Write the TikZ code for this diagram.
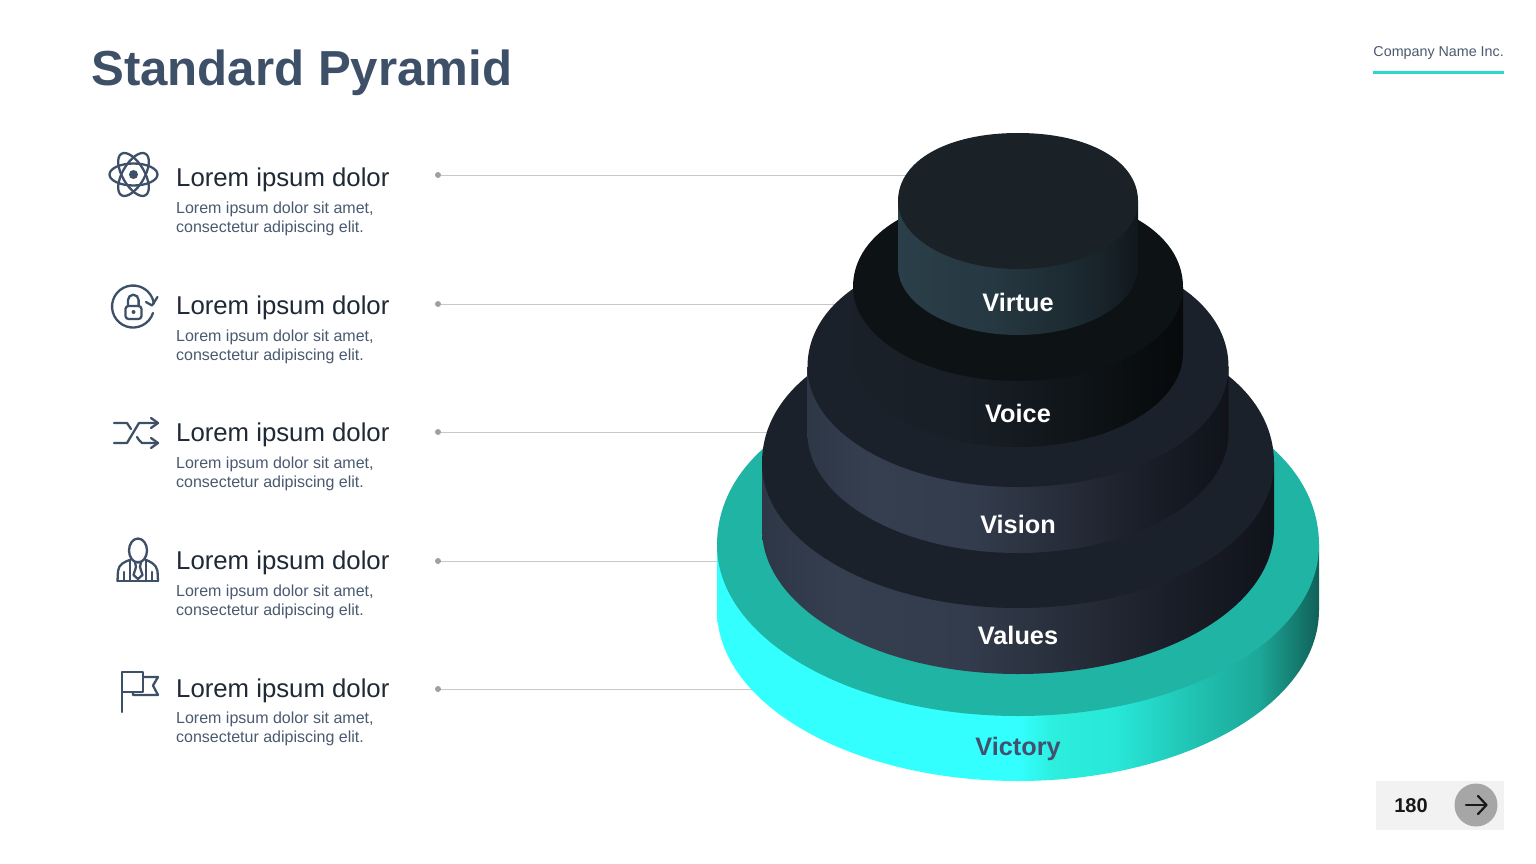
\documentclass[tikz,border=0pt]{standalone}
\usepackage{fontspec}
\setmainfont{Liberation Sans}
\definecolor{slate}{HTML}{3E5068}
\definecolor{headtxt}{HTML}{1F2A36}
\definecolor{subtxt}{HTML}{4A5A70}
\definecolor{victorytxt}{HTML}{43506E}
\definecolor{leader}{HTML}{C8C8C8}
\definecolor{leaderdot}{HTML}{A0A0A0}
\definecolor{teal}{HTML}{2CD8CC}
\definecolor{aa}{HTML}{33FFFF}\definecolor{ab}{HTML}{2CEEDD}\definecolor{ac}{HTML}{28E8D8}\definecolor{ad}{HTML}{20C0B0}\definecolor{ae}{HTML}{1CA898}\definecolor{af}{HTML}{116058}
\definecolor{ba}{HTML}{2E3746}\definecolor{bb}{HTML}{363F50}\definecolor{bc}{HTML}{333C4C}\definecolor{bd}{HTML}{272D3A}\definecolor{be}{HTML}{1A1E28}\definecolor{bf}{HTML}{10131A}
\definecolor{ca}{HTML}{1A2027}\definecolor{cb}{HTML}{181F27}\definecolor{cc}{HTML}{141A20}\definecolor{cd}{HTML}{0C1013}\definecolor{ce}{HTML}{07090B}
\definecolor{da}{HTML}{2A3F49}\definecolor{db}{HTML}{263841}\definecolor{dc}{HTML}{1D2B32}\definecolor{dd}{HTML}{18232A}\definecolor{de}{HTML}{10181C}
\definecolor{topvictory}{HTML}{20B4A4}
\definecolor{topvalues}{HTML}{1B212A}
\definecolor{topvoice}{HTML}{0D1215}
\definecolor{topvirtue}{HTML}{1A2227}
\pgfdeclarehorizontalshading{sidevictory}{100bp}{color(0bp)=(aa); color(25bp)=(aa); color(50bp)=(aa); color(53bp)=(ab); color(58bp)=(ac); color(65bp)=(ad); color(70bp)=(ae); color(75bp)=(af); color(100bp)=(af)}
\pgfdeclarehorizontalshading{sidevalues}{100bp}{color(0bp)=(ba); color(25bp)=(ba); color(32.5bp)=(bb); color(45bp)=(bc); color(55bp)=(bd); color(65bp)=(be); color(75bp)=(bf); color(100bp)=(bf)}
\pgfdeclarehorizontalshading{sidevoice}{100bp}{color(0bp)=(ca); color(25bp)=(ca); color(40bp)=(cb); color(50bp)=(cc); color(65bp)=(cd); color(75bp)=(ce); color(100bp)=(ce)}
\pgfdeclarehorizontalshading{sidevirtue}{100bp}{color(0bp)=(da); color(25bp)=(da); color(45bp)=(db); color(60bp)=(dc); color(67.5bp)=(dd); color(75bp)=(de); color(100bp)=(de)}
\newcommand{\kupper}{0.59}
\newcommand{\klower}{0.5523}
% #1 top centre y, #2 rx, #3 ry, #4 height, #5 side shading, #6 top colour
\newcommand{\tierdisc}[6]{%
  \shade[shading=#5] (1018-#2,#1)
    -- (1018-#2,#1+#4)
    .. controls (1018-#2,#1+#4+\klower*#3) and (1018-\klower*#2,#1+#4+#3) .. (1018,#1+#4+#3)
    .. controls (1018+\klower*#2,#1+#4+#3) and (1018+#2,#1+#4+\klower*#3) .. (1018+#2,#1+#4)
    -- (1018+#2,#1) -- cycle;
  \fill[#6] (1018-#2,#1)
    .. controls (1018-#2,#1-\kupper*#3) and (1018-\kupper*#2,#1-#3) .. (1018,#1-#3)
    .. controls (1018+\kupper*#2,#1-#3) and (1018+#2,#1-\kupper*#3) .. (1018+#2,#1)
    .. controls (1018+#2,#1+\klower*#3) and (1018+\klower*#2,#1+#3) .. (1018,#1+#3)
    .. controls (1018-\klower*#2,#1+#3) and (1018-#2,#1+\klower*#3) .. (1018-#2,#1) -- cycle;
}
\tikzset{
  icon/.style={draw=slate,line width=2.3pt,line cap=round,line join=round,fill=none},
  headtext/.style={anchor=base west,inner sep=0pt,text=headtxt,font=\fontsize{25.75}{30}\selectfont},
  subtext/.style={anchor=base west,inner sep=0pt,text=subtxt,align=left,font=\fontsize{16}{19}\selectfont},
  leaderline/.style={draw=leader,line width=1pt},
  leaderstart/.style={circle,fill=leaderdot,inner sep=0pt,minimum size=6pt},
  tierlabel/.style={anchor=base,text=white,inner sep=0pt,font=\bfseries\fontsize{25.3}{30}\selectfont},
}
\begin{document}
\begin{tikzpicture}[x=1pt,y=-1pt]
\useasboundingbox (0,0) rectangle (1536,864);
\fill[white] (0,0) rectangle (1536,864);
% Title and header
\node[anchor=base west,inner sep=0pt,text=slate,font=\bfseries\fontsize{49.2}{56}\selectfont] (title) at (91,86) {Standard Pyramid};
\node[anchor=base east,inner sep=0pt,text=subtxt,font=\fontsize{14.3}{17}\selectfont] (company) at (1504,57) {Company Name Inc.};
\fill[teal] (1373,71.5) rectangle (1504,74.5);
% Leader lines
\node[leaderstart] (d1) at (438,175) {};
\node[leaderstart] (d2) at (438,304) {};
\node[leaderstart] (d3) at (438,432) {};
\node[leaderstart] (d4) at (438,561) {};
\node[leaderstart] (d5) at (438,689) {};
\coordinate (e1) at (920,175);
\coordinate (e2) at (860,304);
\coordinate (e3) at (780,432);
\coordinate (e4) at (730,561);
\coordinate (e5) at (770,689);
\draw[leaderline] (d1) -- (e1);
\draw[leaderline] (d2) -- (e2);
\draw[leaderline] (d3) -- (e3);
\draw[leaderline] (d4) -- (e4);
\draw[leaderline] (d5) -- (e5);
% Pyramid
\tierdisc{545}{301}{171}{65}{sidevictory}{topvictory}
\tierdisc{463}{256}{145}{66}{sidevalues}{topvalues}
\tierdisc{367}{210.5}{120}{66}{sidevalues}{topvalues}
\tierdisc{287}{165}{94}{66}{sidevoice}{topvoice}
\tierdisc{201}{120}{68}{66}{sidevirtue}{topvirtue}
\node[tierlabel] (virtue) at (1018,311) {Virtue};
\node[tierlabel] (voice) at (1018,422) {Voice};
\node[tierlabel] (vision) at (1018,533) {Vision};
\node[tierlabel] (values) at (1018,644) {Values};
\node[tierlabel,text=victorytxt] (victory) at (1018,755) {Victory};
% Text rows
\node[headtext] (h1) at (176,186) {Lorem ipsum dolor};
\node[subtext] (s1) at (176,232) {Lorem ipsum dolor sit amet,\\consectetur adipiscing elit.};
\node[headtext] (h2) at (176,314) {Lorem ipsum dolor};
\node[subtext] (s2) at (176,360) {Lorem ipsum dolor sit amet,\\consectetur adipiscing elit.};
\node[headtext] (h3) at (176,441) {Lorem ipsum dolor};
\node[subtext] (s3) at (176,487) {Lorem ipsum dolor sit amet,\\consectetur adipiscing elit.};
\node[headtext] (h4) at (176,569) {Lorem ipsum dolor};
\node[subtext] (s4) at (176,615) {Lorem ipsum dolor sit amet,\\consectetur adipiscing elit.};
\node[headtext] (h5) at (176,697) {Lorem ipsum dolor};
\node[subtext] (s5) at (176,742) {Lorem ipsum dolor sit amet,\\consectetur adipiscing elit.};
% Atom icon
\draw[icon] (133.5,174.5) ellipse[x radius=24pt,y radius=11pt];
\draw[icon,rotate around={60:(133.5,174.5)}] (133.5,174.5) ellipse[x radius=24pt,y radius=11pt];
\draw[icon,rotate around={-60:(133.5,174.5)}] (133.5,174.5) ellipse[x radius=24pt,y radius=11pt];
\fill[slate] (133.5,174.5) circle[radius=4.5pt];
% Lock icon
\draw[icon] (153,313) arc[start angle=-18,end angle=-352,radius=21pt];
\draw[icon] (146,302) -- (152,305.5) -- (157.5,297);
\draw[icon,rounded corners=3pt] (125.5,306) rectangle (141.5,319);
\draw[icon] (128,306) -- (128,300) arc[start angle=180,end angle=0,radius=5.3pt] -- (138.6,306);
\fill[slate] (133.5,312) circle[radius=2pt];
% Shuffle icon
\draw[icon] (114,423) -- (127,423) -- (131,429);
\draw[icon] (137,437) -- (139,440) -- (142,443) -- (157,443);
\draw[icon] (114,443) -- (127,443) -- (139,423) -- (157,423);
\draw[icon] (151,418) -- (158,423) -- (151,428);
\draw[icon] (151,438) -- (158,443) -- (151,448);
% Person icon
\draw[icon] (138,550.5) ellipse[x radius=9pt,y radius=12pt];
\draw[icon] (117.5,581) -- (158,581);
\draw[icon] (117.5,581) -- (118,571) .. controls (119,564) and (124,562) .. (131,559.5);
\draw[icon] (158,581) -- (157.5,571) .. controls (156,564) and (151,562) .. (145,559.5);
\draw[icon] (124,572) -- (124,581);
\draw[icon] (152,572) -- (152,581);
\draw[icon] (130,561) -- (130,581);
\draw[icon] (146,561) -- (146,581);
\draw[icon] (135,562) -- (141,562) -- (140,567) -- (142.5,575) -- (138,579) -- (133.5,575) -- (136,567) -- cycle;
% Flag icon
\draw[icon] (122,712) -- (122,672) -- (143,672) -- (143,692) -- (122,692);
\draw[icon] (143,677) -- (158,677) -- (153,685.5) -- (158,695) -- (133,695) -- (133,692);
% Page marker
\fill[black!5] (1376,781) rectangle (1504,830);
\node[inner sep=0pt,text=black!90,font=\bfseries\fontsize{20}{24}\selectfont] (page) at (1411,806) {180};
\node[circle,fill=black!35,inner sep=0pt,minimum size=43pt] (next) at (1476,805) {};
\draw[line width=2.2pt,line cap=round,line join=round,black!90] (1466,805) -- (1486,805);
\draw[line width=2.2pt,line cap=round,line join=round,black!90] (1478,796) -- (1486.5,805) -- (1478,814);
\end{tikzpicture}
\end{document}
